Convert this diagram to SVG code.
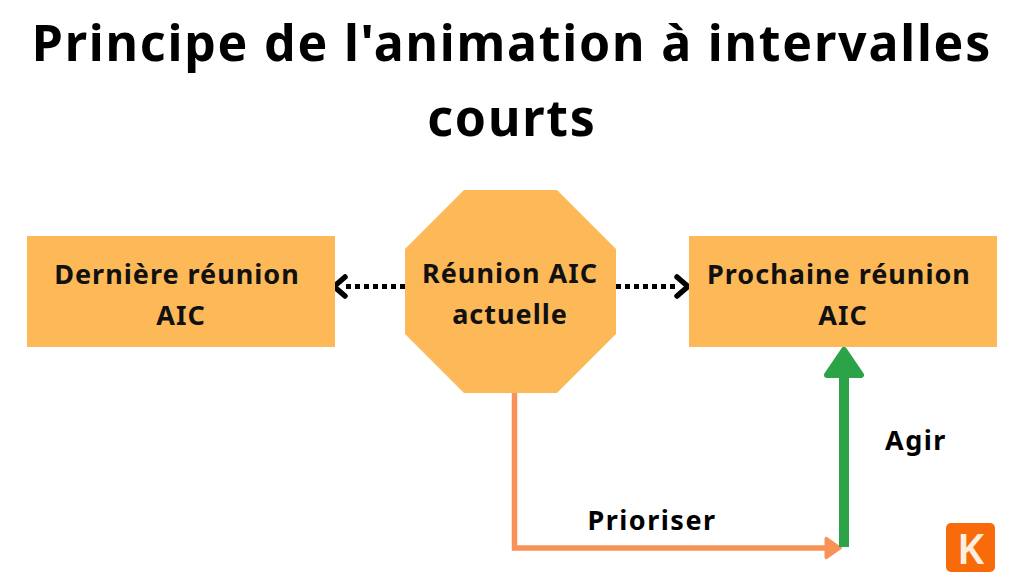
<svg xmlns="http://www.w3.org/2000/svg" width="1024" height="584" viewBox="0 0 1024 584">
<style>
text{font-family:"Noto Sans","DejaVu Sans",sans-serif;fill:#000;text-anchor:middle;font-weight:700}
.title{font-size:50px;letter-spacing:1.8px}
.node{font-size:27px;letter-spacing:1px;fill:#111}
.lab{font-size:27px;letter-spacing:1.5px}
.shape{fill:#fdb858}
</style>
<rect width="1024" height="584" fill="#fff"/>
<text class="title" x="512" y="61">Principe de l'animation à intervalles</text>
<text class="title" x="512" y="136">courts</text>
<g id="connectors">
<path d="M405 286.500H345" fill="none" stroke="#000" stroke-width="5" stroke-dasharray="5 4"/>
<path d="M345 277L334 286.500L345 296" fill="none" stroke="#000" stroke-width="5.500" stroke-linecap="round" stroke-linejoin="round"/>
<path d="M616 286.500H678" fill="none" stroke="#000" stroke-width="5" stroke-dasharray="5 4"/>
<path d="M677 277L688 286.500L677 296" fill="none" stroke="#000" stroke-width="5.500" stroke-linecap="round" stroke-linejoin="round"/>
<path d="M514.500 393V548H828" fill="none" stroke="#f89257" stroke-width="5.500"/>
<path d="M827 537.500Q825 536 825 539V557Q825 560 827 558.500L842 548Z" fill="#f89257" stroke="#f89257" stroke-width="1" stroke-linejoin="round"/>
<path d="M844 547V375" fill="none" stroke="#2da348" stroke-width="10"/>
<path d="M844 350L861 375H827Z" fill="#2da348" stroke="#2da348" stroke-width="6" stroke-linejoin="round"/>
</g>
<g id="node-derniere">
<rect class="shape" x="27" y="236" width="308" height="111"/>
<text class="node" x="177" y="284">Dernière réunion</text>
<text class="node" x="181" y="325">AIC</text>
</g>
<g id="node-actuelle">
<polygon class="shape" points="464,190 557,190 616,249 616,334 557,393 464,393 405,334 405,249"/>
<text class="node" x="510" y="283">Réunion AIC</text>
<text class="node" x="510" y="324">actuelle</text>
</g>
<g id="node-prochaine">
<rect class="shape" x="689" y="236" width="308" height="111"/>
<text class="node" x="839" y="284">Prochaine réunion</text>
<text class="node" x="843" y="325">AIC</text>
</g>
<text class="lab" x="652" y="530">Prioriser</text>
<text class="lab" x="916" y="450">Agir</text>
<g id="logo">
<rect x="946" y="523" width="49" height="49" rx="5" fill="#f96b0a"/>
<text x="970.500" y="564" style="font-size:42px;font-weight:600;fill:#fdf0e0">K</text>
</g>
</svg>
